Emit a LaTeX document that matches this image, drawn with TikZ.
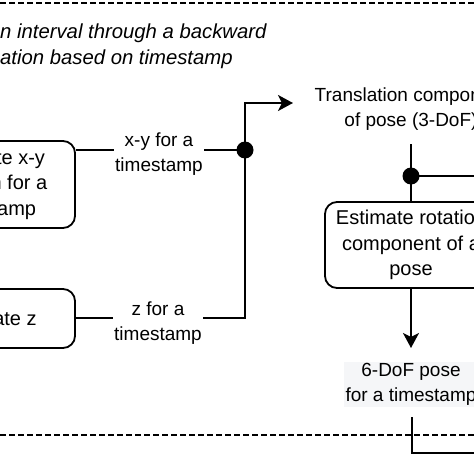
\documentclass[tikz,border=0pt]{standalone}
\usepackage{fontspec}
\setmainfont{Liberation Sans}
\usetikzlibrary{arrows.meta}
\definecolor{labelbg}{RGB}{245,246,248}
\tikzset{
  stepbox/.style={draw, line width=1.8pt, rounded corners=12pt, align=center,
    font=\fontsize{20}{25.5}\selectfont},
  lbl/.style={align=center, inner sep=1pt, font=\fontsize{19}{24.5}\selectfont},
  caption/.style={anchor=base west, inner sep=0pt, font=\fontsize{20.3}{26}\selectfont\itshape},
  joint/.style={circle, fill=black, inner sep=0pt, minimum size=17pt},
  wire/.style={line width=1.8pt},
  tip/.style={-{Stealth[length=15pt,width=16pt,inset=4pt]}},
  sep/.style={line width=1.8pt, dash pattern=on 5.5pt off 3.5pt},
}
\begin{document}
\begin{tikzpicture}[x=1pt,y=-1pt]
    \useasboundingbox (0,0) rectangle (474,474);
    \clip (0,0) rectangle (474,474);
    %% dashed frame
    \draw[sep] (0,3) -- (474,3);
    \draw[sep] (0,435) -- (474,435);
    %% caption
    \node[caption] (capa) at (0,38) {n interval through a backward};
    \node[caption] (capb) at (0,64) {ation based on timestamp};
    %% position estimates
    \node[stepbox, minimum width=170pt, minimum height=87pt] (xybox) at (-10,184.5) {Estimate x-y\\position for a\\timestamp};
    \node[stepbox, minimum width=170pt, minimum height=59pt] (zbox) at (-10,318.5) {Estimate z};
    \node[lbl] (xylbl) at (159,154) {x-y for a\\timestamp};
    \node[lbl] (zlbl) at (158,323) {z for a\\timestamp};
    \node[joint] (jxy) at (245,150) {};
    \coordinate (zbend) at (245,318);
    \coordinate (bend) at (245,103);
    \coordinate (tin) at (293,103);
    \draw[wire] (xybox.east |- jxy) -- (xylbl.west |- jxy);
    \draw[wire] (xylbl.east |- jxy) -- (jxy.center);
    \draw[wire] (zbox.east |- zbend) -- (zlbl.west |- zbend);
    \draw[wire, tip] (zlbl.east |- zbend) -- (zbend) -- (bend) -- (tin);
    %% rotation
    \node[lbl] (trans) at (411,109) {Translation component\\of pose (3-DoF)};
    \node[stepbox, minimum width=172pt, minimum height=86pt] (rotbox) at (411,245) {Estimate rotation\\component of a\\pose};
    \node[joint] (jrot) at (411,176) {};
    \coordinate (tstub) at (411,144);
    \coordinate (rout) at (480,176);
    \draw[wire] (tstub) -- (rotbox.north);
    \draw[wire] (jrot.center) -- (rout);
    %% output pose
    \node[lbl, fill=labelbg, inner sep=2pt] (pose) at (411,384.5) {6-DoF pose\\for a timestamp};
    \coordinate (pin) at (411,348);
    \coordinate (pstub) at (412,417);
    \coordinate (pout) at (480,453);
    \draw[wire, tip] (rotbox.south) -- (pin);
    \draw[wire] (pstub) |- (pout);
\end{tikzpicture}
\end{document}
